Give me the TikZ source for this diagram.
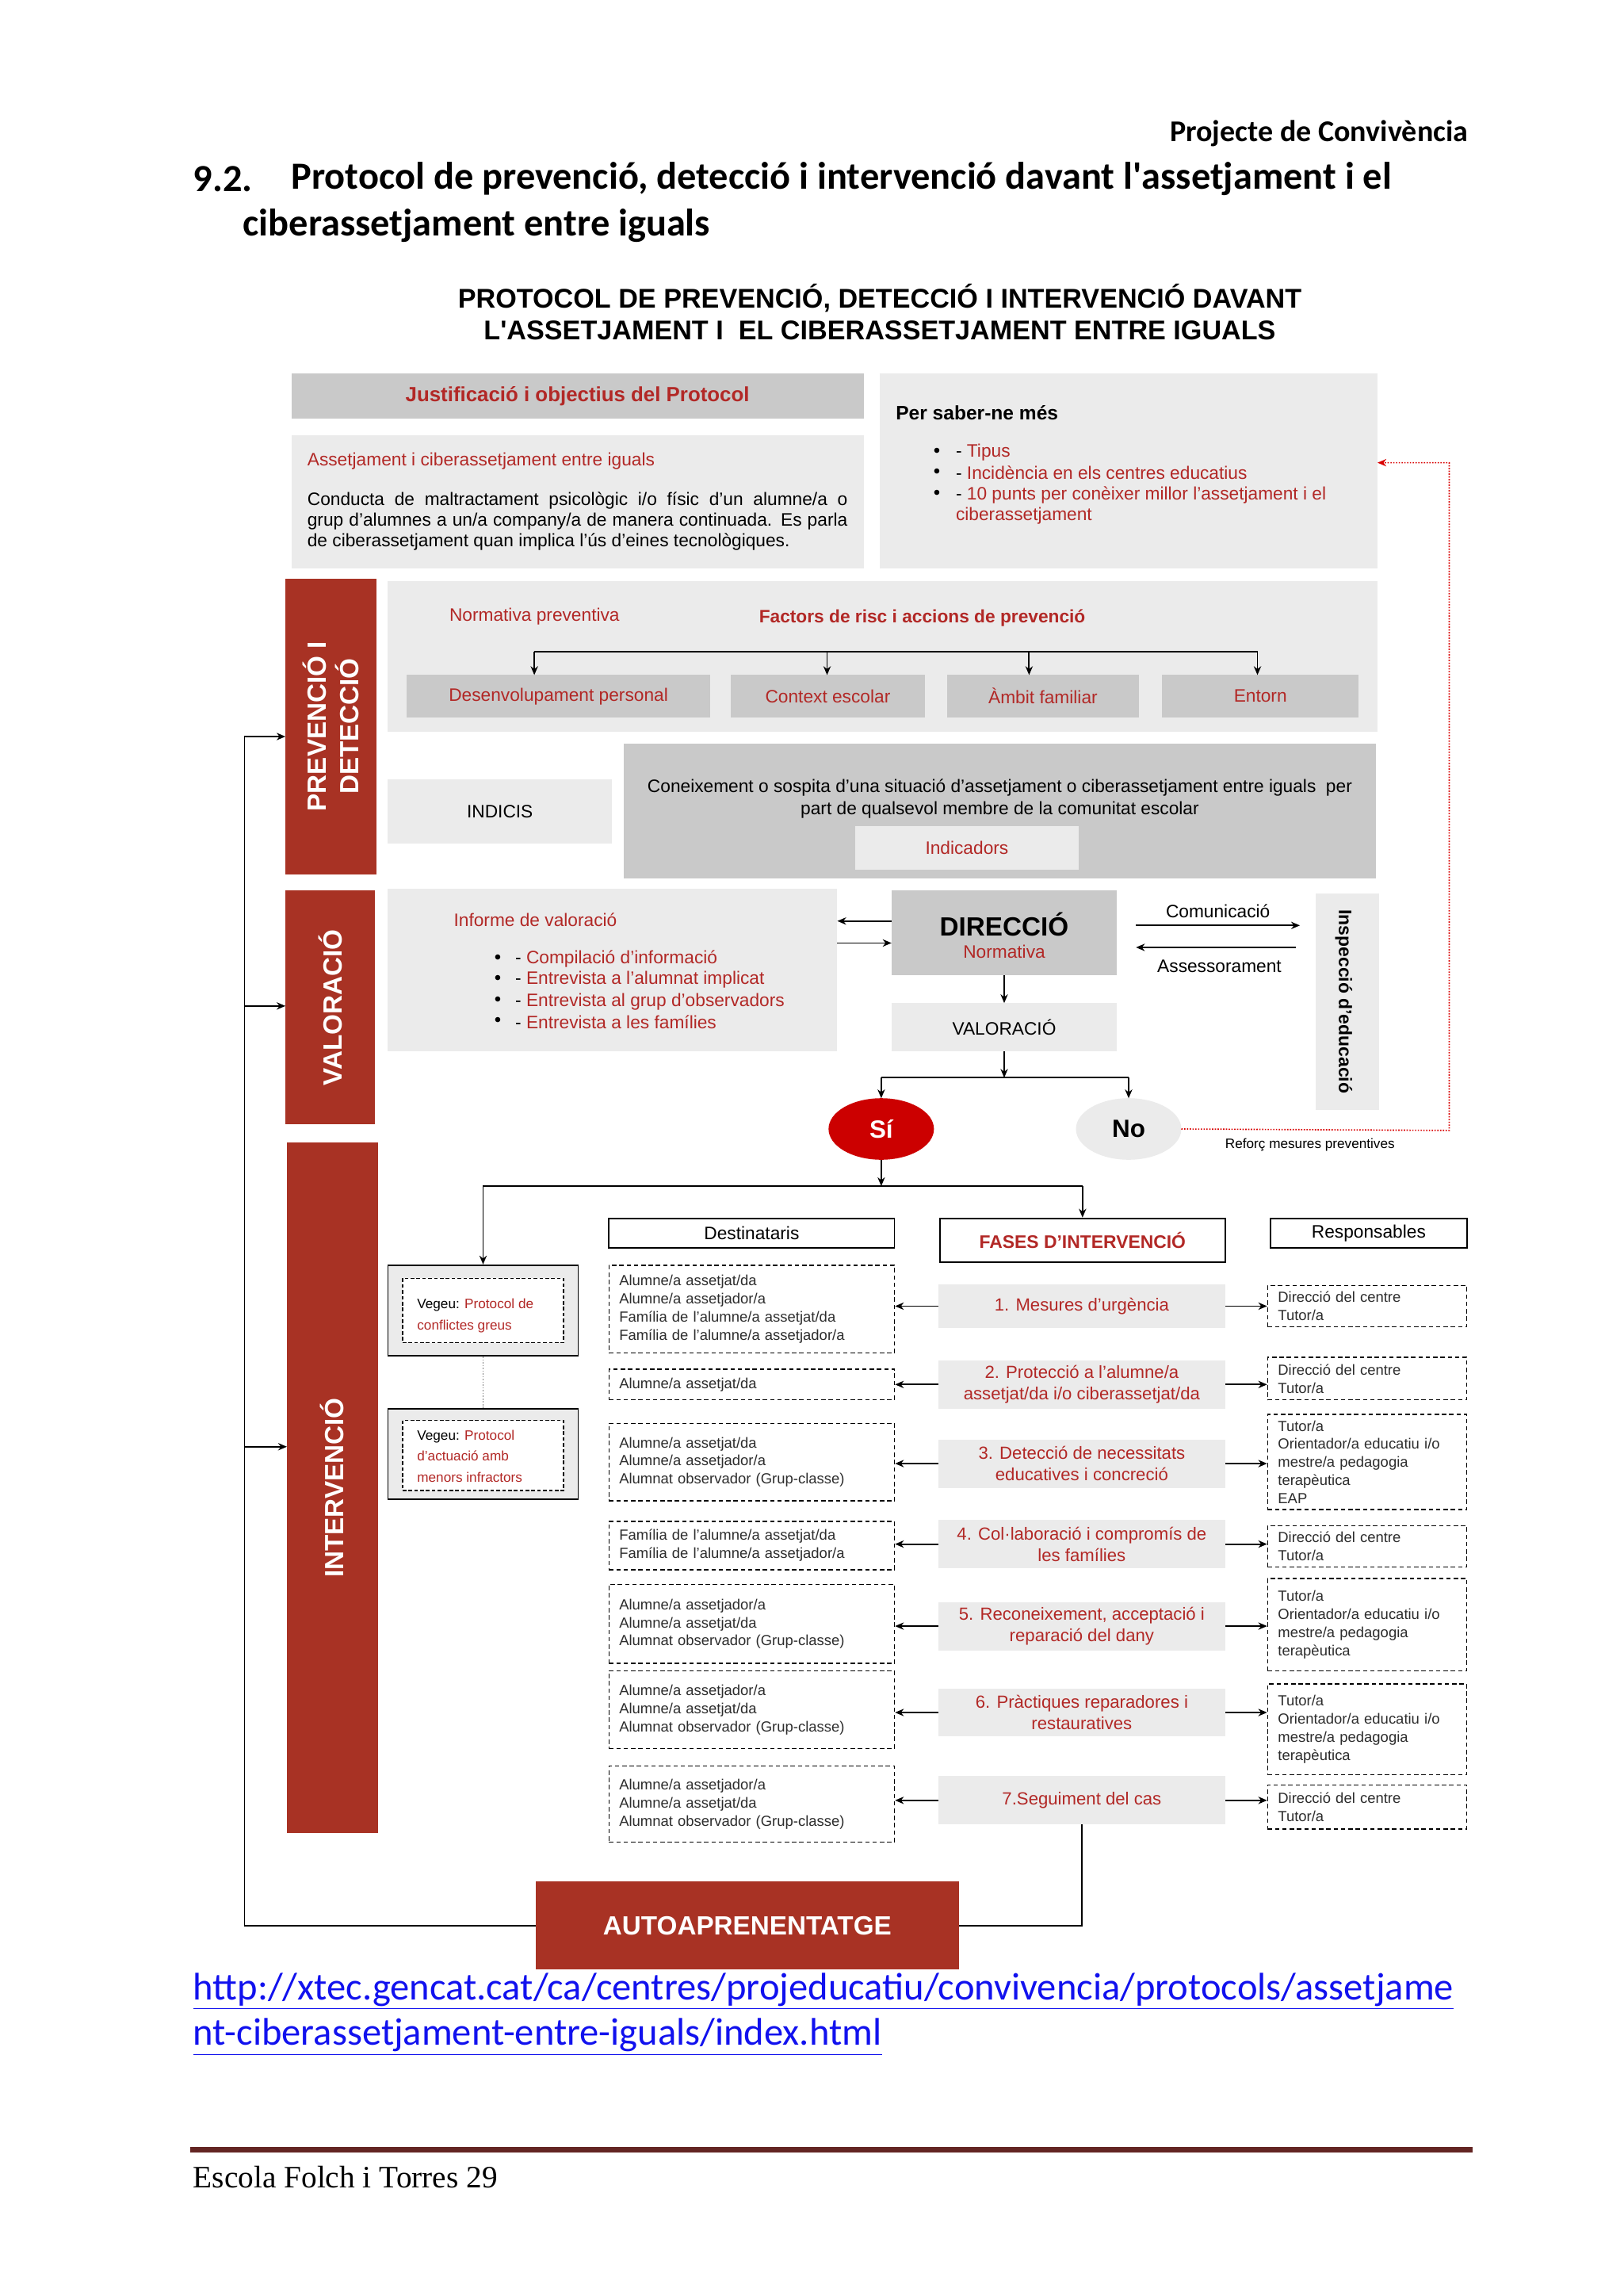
\documentclass[tikz,border=0pt]{standalone}
\usepackage{fontspec}
\setmainfont{Liberation Sans}
\newfontfamily\calibri{Carlito}
\newfontfamily\cambria{Liberation Serif}
\usetikzlibrary{arrows.meta,shapes.geometric}
\newcommand{\myfs}[2]{\fontsize{#1}{#2}\selectfont}
\definecolor{barred}{RGB}{168,50,36}
\definecolor{txtred}{RGB}{178,40,38}
\definecolor{boxgray}{RGB}{201,201,201}
\definecolor{lgray}{RGB}{235,235,235}
\definecolor{sired}{RGB}{204,0,0}
\definecolor{footred}{RGB}{99,37,35}
\definecolor{linkblue}{RGB}{17,17,238}
\definecolor{dtext}{RGB}{45,45,45}
\begin{document}
\begin{tikzpicture}[x=1pt,y=-1pt,
  wh/.style 2 args={minimum width=#1pt, minimum height=#2pt},
  txt/.style={inner sep=0pt, outer sep=0pt},
  filled/.style={inner sep=0pt, outer sep=0pt, draw=none},
  gbox/.style={filled, fill=boxgray},
  lbox/.style={filled, fill=lgray},
  redbar/.style={filled, fill=barred, text=white, font=\bfseries\myfs{18}{22}, align=center},
  reg/.style={font=\myfs{12.3}{15}},
  dbox/.style={draw=black, dash pattern=on 3pt off 2pt, line width=0.8pt, fill=white, inner xsep=7pt, inner ysep=1pt, align=left, text=dtext, font=\myfs{10}{12.4}},
  rbox/.style={dbox, text width=122pt},
  tbox/.style={dbox, text width=181pt},
  hbox/.style={draw=black, line width=1pt, fill=white, inner sep=0pt, font=\myfs{12.3}{15}},
  phase/.style={lbox, align=center, text=txtred, font=\myfs{12}{14.5}, wh={196}{33}},
  arr/.style={-{Stealth[length=6pt,width=5pt]}, line width=1pt},
  conn/.style={line width=1pt},
  reddot/.style={draw=red!85!black, densely dotted, line width=0.9pt},
  bul/.style={txt, font=\myfs{13}{14}},
]
\useasboundingbox (0,0) rectangle (1109,1568);
\node[filled, fill=white, wh={1109}{1568}, anchor=north west] (page) at (0,0) {};

% header
\node[txt, anchor=east, font=\calibri\bfseries\myfs{20.6}{24}] (hdr) at (1003,91) {Projecte de Convivència};
\node[txt, anchor=west, font=\calibri\bfseries\myfs{26.2}{30}] (secnum) at (132,122) {9.2.};
\node[txt, anchor=west, font=\calibri\bfseries\myfs{26.2}{30}] (sect1) at (199,122) {Protocol de prevenció, detecció i intervenció davant l\textquotesingle assetjament i el};
\node[txt, anchor=west, font=\calibri\bfseries\myfs{26.2}{30}] (sect2) at (166,154) {ciberassetjament entre iguals};

% diagram title
\node[txt, align=center, font=\bfseries\myfs{18.5}{22}] (dtitle) at (601,213) {PROTOCOL DE PREVENCIÓ, DETECCIÓ I INTERVENCIÓ DAVANT\\L\textquotesingle ASSETJAMENT I\ \ EL CIBERASSETJAMENT ENTRE IGUALS};

% top boxes
\node[gbox, wh={391}{31}, text=txtred, font=\bfseries\myfs{14}{16}] (just) at (394.5,270.5) {Justificació i objectius del Protocol};
\node[lbox, wh={391}{91}] (asset) at (394.5,342.5) {};
\node[txt, anchor=west, text=txtred, reg] (assett) at (210,315) {Assetjament i ciberassetjament entre iguals};
\node[txt, anchor=west, reg] (par1) at (210,342) {\makebox[369pt][s]{Conducta de maltractament psicològic i/o físic d'un alumne/a o}};
\node[txt, anchor=west, reg] (par2) at (210,356) {\makebox[369pt][s]{grup d'alumnes a un/a company/a de manera continuada. Es parla}};
\node[txt, anchor=west, reg] (par3) at (210,370) {de ciberassetjament quan implica l'ús d'eines tecnològiques.};

\node[lbox, wh={340}{133}] (saber) at (771,321.5) {};
\node[txt, anchor=west, font=\bfseries\myfs{13.3}{16}] (sabert) at (612,282) {Per saber-ne més};
\node[bul] (sb1) at (640,309) {\textbullet};
\node[bul] (sb2) at (640,323) {\textbullet};
\node[bul] (sb3) at (640,338) {\textbullet};
\node[txt, anchor=west, reg] (st1) at (653,309) {- \textcolor{txtred}{Tipus}};
\node[txt, anchor=west, reg] (st2) at (653,323) {- \textcolor{txtred}{Incidència en els centres educatius}};
\node[txt, anchor=west, reg] (st3) at (653,338) {- \textcolor{txtred}{10 punts per conèixer millor l'assetjament i el}};
\node[txt, anchor=west, reg, text=txtred] (st4) at (653,352) {ciberassetjament};

% red bars
\node[redbar, wh={62}{202}] (prev) at (226,496) {};
\node[txt, rotate=90, align=center, text=white, font=\bfseries\myfs{18}{22}] (prevt) at (226,496) {PREVENCIÓ I\\DETECCIÓ};
\node[redbar, wh={61}{160}] (val) at (225.5,688) {};
\node[txt, rotate=90, text=white, font=\bfseries\myfs{18}{22}] (valt) at (225.5,688) {VALORACIÓ};
\node[redbar, wh={62}{472}] (int) at (227,1016) {};
\node[txt, rotate=90, text=white, font=\bfseries\myfs{18}{22}] (intt) at (227,1016) {INTERVENCIÓ};

% prevention panel
\node[lbox, wh={676}{103}] (prevpanel) at (603,448.5) {};
\node[txt, anchor=west, reg, text=txtred] (normprev) at (307,421) {Normativa preventiva};
\node[txt, text=txtred, font=\bfseries\myfs{12.3}{15}] (factors) at (630,422) {Factors de risc i accions de prevenció};
\node[gbox, wh={207}{29}, reg, text=txtred] (desen) at (381.5,475.5) {Desenvolupament personal};
\node[gbox, wh={133}{29}, reg, text=txtred] (context) at (565.5,475.5) {Context escolar};
\node[gbox, wh={131}{29}, reg, text=txtred] (ambit) at (712.5,475.5) {Àmbit familiar};
\node[gbox, wh={134}{29}, reg, text=txtred] (entorn) at (861,475.5) {Entorn};
\coordinate (fL) at (365,445);
\coordinate (fM1) at (565,445);
\coordinate (fM2) at (703,445);
\coordinate (fR) at (859,445);
\draw[conn] (fL) -- (fR);
\draw[arr] (fL) -- (fL |- desen.north);
\draw[arr] (fM1) -- (fM1 |- context.north);
\draw[arr] (fM2) -- (fM2 |- ambit.north);
\draw[arr] (fR) -- (fR |- entorn.north);

\node[lbox, wh={153}{44}, reg] (indicis) at (341.5,554) {INDICIS};
\node[gbox, wh={514}{92}] (conei) at (683,554) {};
\node[txt, align=center, reg] (coneit) at (683,545.5) {Coneixement o sospita d'una situació d'assetjament o ciberassetjament entre iguals\ \ per\\part de qualsevol membre de la comunitat escolar};
\node[lbox, wh={153}{30}, reg, text=txtred] (indic) at (660.5,579) {Indicadors};

% valoracio
\node[lbox, wh={307}{111}] (valpanel) at (418.5,662.5) {};
\node[txt, anchor=west, reg, text=txtred] (inft) at (310,628) {Informe de valoració};
\node[bul] (vb1) at (340,655) {\textbullet};
\node[bul] (vb2) at (340,669) {\textbullet};
\node[bul] (vb3) at (340,684) {\textbullet};
\node[bul] (vb4) at (340,698) {\textbullet};
\node[txt, anchor=west, reg] (vt1) at (352,655) {- \textcolor{txtred}{Compilació d'informació}};
\node[txt, anchor=west, reg] (vt2) at (352,669) {- \textcolor{txtred}{Entrevista a l'alumnat implicat}};
\node[txt, anchor=west, reg] (vt3) at (352,684) {- \textcolor{txtred}{Entrevista al grup d'observadors}};
\node[txt, anchor=west, reg] (vt4) at (352,698) {- \textcolor{txtred}{Entrevista a les famílies}};

\node[gbox, wh={154}{58}] (dir) at (686,637) {};
\node[txt, font=\bfseries\myfs{18}{22}] (dirt) at (686,631) {DIRECCIÓ};
\node[txt, reg, text=txtred] (dirn) at (686,650) {Normativa};
\node[lbox, wh={154}{33}, reg] (valbox) at (686,701.5) {VALORACIÓ};
\node[lbox, wh={43}{148}] (insp) at (920.5,684) {};
\node[txt, rotate=-90, font=\bfseries\myfs{12.4}{15}] (inspt) at (918,684) {Inspecció d'educació};

\coordinate (dl1) at ([yshift=8pt]dir.west);
\coordinate (dl2) at ([yshift=-7pt]dir.west);
\draw[arr] (dl1) -- (dl1 -| valpanel.east);
\draw[arr] (dl2 -| valpanel.east) -- (dl2);
\draw[arr] (dir.south) -- (valbox.north);

\coordinate (c1) at (776,632);
\coordinate (c2) at (888,632);
\coordinate (a1) at (885,647);
\coordinate (a2) at (776,647);
\draw[arr] (c1) -- (c2);
\draw[arr] (a1) -- (a2);
\node[txt, reg] (comt) at (832,622) {Comunicació};
\node[txt, reg] (asst) at (833,660) {Assessorament};

\node[ellipse, filled, fill=sired, wh={72}{42}, text=white, font=\bfseries\myfs{17}{20}] (si) at (602,771) {Sí};
\node[ellipse, filled, fill=lgray, wh={72}{42}, font=\bfseries\myfs{17}{20}] (no) at (771,771) {No};
\node[txt, anchor=west, font=\myfs{9.3}{11}] (reforc) at (837,782) {Reforç mesures preventives};

\coordinate (vj) at (686,736);
\draw[arr] (valbox.south) -- (vj);
\draw[conn] (si.north |- vj) -- (no.north |- vj);
\draw[arr] (si.north |- vj) -- (si.north);
\draw[arr] (no.north |- vj) -- (no.north);

\coordinate (rd1) at (990,772);
\coordinate (rd2) at (990,316);
\draw[reddot, -{Stealth[length=6pt,width=5pt]}] (no.east) -- (rd1) -- (rd2) -- (rd2 -| saber.east);

% intervencio
\node[hbox, wh={195}{20}] (dest) at (513.5,842) {Destinataris};
\node[hbox, wh={195}{30}, text=txtred, font=\bfseries\myfs{12.4}{15}] (fases) at (739.5,847) {FASES D'INTERVENCIÓ};
\node[hbox, wh={134}{20}] (resp) at (935,842) {Responsables};

\coordinate (sj) at (602,810);
\draw[arr] (si.south) -- (sj);
\node[draw=black, line width=1pt, fill=lgray, wh={130}{62}, inner sep=0pt] (veg1) at (330,895) {};
\node[draw=black, dash pattern=on 2.5pt off 1.5pt, line width=0.8pt, fill=white, wh={110}{44}, inner sep=0pt] (veg1in) at (330,895) {};
\node[txt, anchor=west, align=left, font=\myfs{9.3}{14.5}] (veg1t) at (285,898.5) {Vegeu: \textcolor{txtred}{Protocol de}\\\textcolor{txtred}{conflictes greus}};
\node[draw=black, line width=1pt, fill=lgray, wh={130}{62}, inner sep=0pt] (veg2) at (330,993) {};
\node[draw=black, dash pattern=on 2.5pt off 1.5pt, line width=0.8pt, fill=white, wh={110}{48}, inner sep=0pt] (veg2in) at (330,994) {};
\node[txt, anchor=west, align=left, font=\myfs{9.3}{14.5}] (veg2t) at (285,994.5) {Vegeu: \textcolor{txtred}{Protocol}\\\textcolor{txtred}{d'actuació amb}\\\textcolor{txtred}{menors infractors}};
\draw[gray, densely dotted, line width=0.9pt] (veg1.south) -- (veg2.north);

\draw[conn] (veg1.north |- sj) -- (fases.north |- sj);
\draw[arr] (veg1.north |- sj) -- (veg1.north);
\draw[arr] (fases.north |- sj) -- (fases.north);

% rows
\node[phase, wh={196}{30}] (ph1) at (739,892) {1. Mesures d'urgència};
\node[phase] (ph2) at (739,945.5) {2. Protecció a l'alumne/a\\assetjat/da i/o ciberassetjat/da};
\node[phase] (ph3) at (739,999.5) {3. Detecció de necessitats\\educatives i concreció};
\node[phase] (ph4) at (739,1054.5) {4. Col·laboració i compromís de\\les famílies};
\node[phase] (ph5) at (739,1110.5) {5. Reconeixement, acceptació i\\reparació del dany};
\node[phase] (ph6) at (739,1169.5) {6. Pràctiques reparadores i\\restauratives};
\node[phase] (ph7) at (739,1229.5) {7.Seguiment del cas};

\node[tbox, wh={195}{60}] (d1) at (513.5,894) {Alumne/a assetjat/da\\Alumne/a assetjador/a\\Família de l'alumne/a assetjat/da\\Família de l'alumne/a assetjador/a};
\node[tbox, wh={195}{21}] (d2) at (513.5,945.5) {Alumne/a assetjat/da};
\node[tbox, wh={195}{53}] (d3) at (513.5,998.5) {Alumne/a assetjat/da\\Alumne/a assetjador/a\\Alumnat observador (Grup-classe)};
\node[tbox, wh={195}{33}] (d4) at (513.5,1055.5) {Família de l'alumne/a assetjat/da\\Família de l'alumne/a assetjador/a};
\node[tbox, wh={195}{54}] (d5) at (513.5,1109) {Alumne/a assetjador/a\\Alumne/a assetjat/da\\Alumnat observador (Grup-classe)};
\node[tbox, wh={195}{53}] (d6) at (513.5,1167.5) {Alumne/a assetjador/a\\Alumne/a assetjat/da\\Alumnat observador (Grup-classe)};
\node[tbox, wh={195}{52}] (d7) at (513.5,1232) {Alumne/a assetjador/a\\Alumne/a assetjat/da\\Alumnat observador (Grup-classe)};

\node[rbox, wh={136}{28}] (r1) at (934,892) {Direcció del centre\\Tutor/a};
\node[rbox, wh={136}{29}] (r2) at (934,941.5) {Direcció del centre\\Tutor/a};
\node[rbox, wh={136}{65}] (r3) at (934,998.5) {Tutor/a\\Orientador/a educatiu i/o\\mestre/a pedagogia\\terapèutica\\EAP};
\node[rbox, wh={136}{28}] (r4) at (934,1056) {Direcció del centre\\Tutor/a};
\node[rbox, wh={136}{63}] (r5) at (934,1109.5) {Tutor/a\\Orientador/a educatiu i/o\\mestre/a pedagogia\\terapèutica};
\node[rbox, wh={136}{62}] (r6) at (934,1181) {Tutor/a\\Orientador/a educatiu i/o\\mestre/a pedagogia\\terapèutica};
\node[rbox, wh={136}{30}] (r7) at (934,1234) {Direcció del centre\\Tutor/a};

\foreach \i in {1,...,7}{
  \draw[arr] (ph\i.west) -- (ph\i.west -| d\i.east);
  \draw[arr] (ph\i.east) -- (ph\i.east -| r\i.west);
}

% autoaprenentatge and loop
\node[filled, fill=barred, wh={289}{60}, text=white, font=\bfseries\myfs{18}{22}] (auto) at (510.5,1315) {AUTOAPRENENTATGE};
\draw[conn] (ph7.south) -- (ph7.south |- auto.east) -- (auto.east);
\coordinate (lpB) at (167,1315);
\coordinate (lpT) at (167,503);
\coordinate (lpV) at (167,687);
\coordinate (lpI) at (167,988);
\draw[conn] (auto.west) -- (lpB) -- (lpT);
\draw[arr] (lpT) -- (lpT -| prev.west);
\draw[arr] (lpV) -- (lpV -| val.west);
\draw[arr] (lpI) -- (lpI -| int.west);

% url and footer
\node[txt, anchor=west, text=linkblue, font=\calibri\myfs{26.3}{30}] (url1) at (132,1360) {\underline{http://xtec.gencat.cat/ca/centres/projeducatiu/convivencia/protocols/assetjame}};
\node[txt, anchor=west, text=linkblue, font=\calibri\myfs{26.3}{30}] (url2) at (132,1391) {\underline{nt-ciberassetjament-entre-iguals/index.html}};
\node[filled, fill=footred, wh={876}{4}] (footbar) at (568,1468) {};
\node[txt, anchor=west, font=\cambria\myfs{21.3}{24}] (foot) at (132,1487) {Escola Folch i Torres 29};
\end{tikzpicture}
\end{document}
